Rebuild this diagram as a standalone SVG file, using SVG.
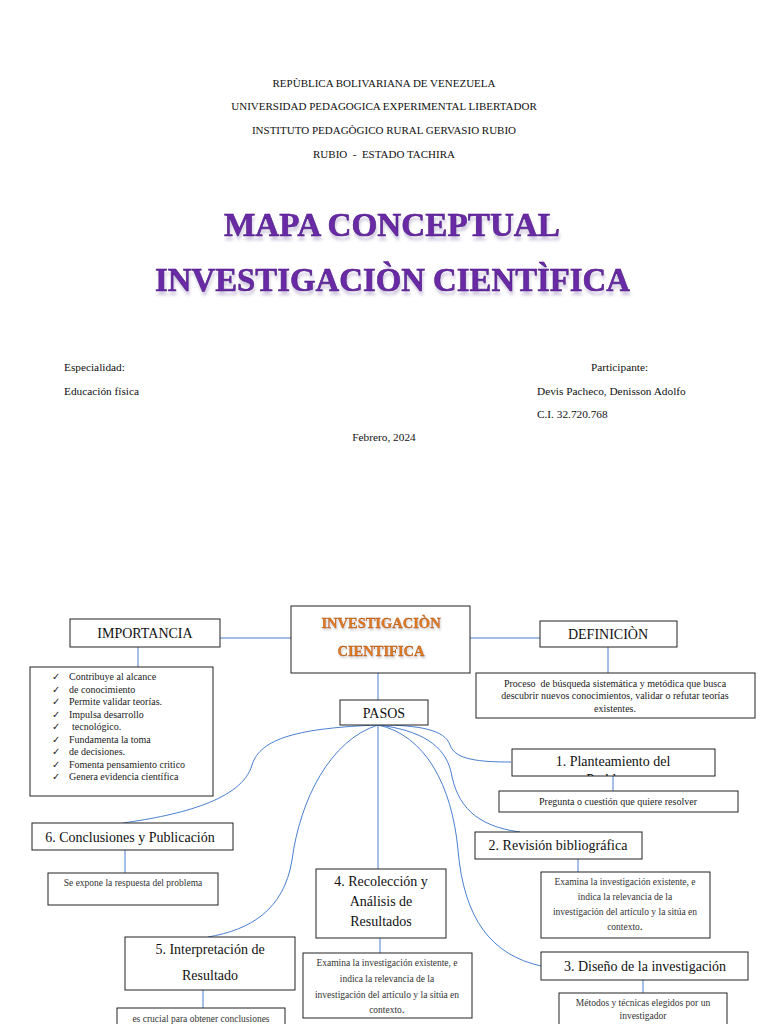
<svg xmlns="http://www.w3.org/2000/svg" width="768" height="1024" viewBox="0 0 768 1024">
<defs>
<style>
.hdr{font-family:"Liberation Serif",serif;font-size:11px;fill:#111}
.inf{font-family:"Liberation Serif",serif;font-size:11.3px;fill:#111}
.ttl{font-family:"Liberation Serif",serif;font-weight:bold;font-size:34px;fill:#6a2aa6;stroke:#4a1780;stroke-width:0.6}
.box{fill:#fff;stroke:#222;stroke-width:1}
.lbl{font-family:"Liberation Serif",serif;font-size:14px;fill:#111;text-anchor:middle}
.sm{font-family:"Liberation Serif",serif;font-size:10px;fill:#222}
.xs{font-family:"Liberation Serif",serif;font-size:9.5px;fill:#333;text-anchor:middle}
.chk{font-family:"DejaVu Sans",sans-serif;font-size:10px;fill:#222}
.org{font-family:"Liberation Serif",serif;font-weight:bold;font-size:14.5px;fill:#e07a1f;stroke:#a8520c;stroke-width:0.3;text-anchor:middle}
.con{fill:none;stroke:#4a7fd0;stroke-width:1}
</style>
<filter id="sh" x="-5%" y="-20%" width="110%" height="160%">
<feDropShadow dx="1" dy="4" stdDeviation="1.5" flood-color="#9a86b8" flood-opacity="0.45"/>
</filter>
<filter id="sho" x="-5%" y="-20%" width="110%" height="160%">
<feDropShadow dx="1" dy="2" stdDeviation="1" flood-color="#999" flood-opacity="0.5"/>
</filter>
<clipPath id="clipP"><rect x="512" y="749" width="203" height="27"/></clipPath>
</defs>

<g id="header">
<text class="hdr" x="384" y="87" text-anchor="middle">REPÙBLICA BOLIVARIANA DE VENEZUELA</text>
<text class="hdr" x="384" y="110" text-anchor="middle">UNIVERSIDAD PEDAGOGICA EXPERIMENTAL LIBERTADOR</text>
<text class="hdr" x="384" y="134" text-anchor="middle">INSTITUTO PEDAGÒGICO RURAL GERVASIO RUBIO</text>
<text class="hdr" x="384" y="158" text-anchor="middle" xml:space="preserve">RUBIO  -  ESTADO TACHIRA</text>
</g>

<g id="title" filter="url(#sh)">
<text class="ttl" x="224" y="236" textLength="336" lengthAdjust="spacingAndGlyphs">MAPA CONCEPTUAL</text>
<text class="ttl" x="155" y="291" textLength="475" lengthAdjust="spacingAndGlyphs">INVESTIGACIÒN CIENTÌFICA</text>
</g>

<g id="info">
<text class="inf" x="64" y="371">Especialidad:</text>
<text class="inf" x="64" y="395">Educación física</text>
<text class="inf" x="591" y="371">Participante:</text>
<text class="inf" x="537" y="395">Devis Pacheco, Denisson Adolfo</text>
<text class="inf" x="537" y="418">C.I. 32.720.768</text>
<text class="inf" x="384" y="441" text-anchor="middle">Febrero, 2024</text>
</g>

<g id="connectors">
<line class="con" x1="220" y1="638" x2="291" y2="638"/>
<line class="con" x1="470" y1="638" x2="540" y2="638"/>
<line class="con" x1="138" y1="647" x2="138" y2="667"/>
<line class="con" x1="608" y1="647" x2="608" y2="673"/>
<line class="con" x1="378" y1="673" x2="378" y2="700"/>
<line class="con" x1="378" y1="725" x2="378" y2="869"/>
<path class="con" d="M378,725 C300,728 260,738 252,765 C242,800 180,815 123,823"/>
<path class="con" d="M378,725 C330,740 300,800 292,860 C284,910 250,930 208,937"/>
<path class="con" d="M378,725 C420,725 445,730 450,745 C455,760 480,762 511,762"/>
<path class="con" d="M378,725 C420,730 445,745 451,772 C457,805 475,826 520,832"/>
<path class="con" d="M378,725 C425,735 452,785 458,850 C464,920 492,955 541,966"/>
<line class="con" x1="613" y1="776" x2="613" y2="791"/>
<line class="con" x1="578" y1="859" x2="578" y2="872"/>
<line class="con" x1="643" y1="980" x2="643" y2="993"/>
<line class="con" x1="380" y1="938" x2="380" y2="953"/>
<line class="con" x1="203" y1="990" x2="203" y2="1008"/>
<line class="con" x1="125" y1="850" x2="125" y2="873"/>
</g>

<g id="n-investigacion">
<rect class="box" x="291" y="606" width="179" height="67"/>
<g filter="url(#sho)">
<text class="org" x="381" y="628">INVESTIGACIÒN</text>
<text class="org" x="381" y="656">CIENTIFICA</text>
</g>
</g>

<g id="n-importancia">
<rect class="box" x="70" y="619" width="150" height="28"/>
<text class="lbl" x="145" y="638">IMPORTANCIA</text>
</g>

<g id="n-importancia-list">
<rect class="box" x="30" y="667" width="183" height="129"/>
<text class="chk" x="52" y="680">✓</text><text class="sm" x="69" y="680">Contribuye al alcance</text>
<text class="chk" x="52" y="692.5">✓</text><text class="sm" x="69" y="692.5">de conocimiento</text>
<text class="chk" x="52" y="705">✓</text><text class="sm" x="69" y="705">Permite validar teorías.</text>
<text class="chk" x="52" y="717.5">✓</text><text class="sm" x="69" y="717.5">Impulsa desarrollo</text>
<text class="chk" x="52" y="730">✓</text><text class="sm" x="72" y="730">tecnológico.</text>
<text class="chk" x="52" y="742.5">✓</text><text class="sm" x="69" y="742.5">Fundamenta la toma</text>
<text class="chk" x="52" y="755">✓</text><text class="sm" x="69" y="755">de decisiones.</text>
<text class="chk" x="52" y="767.5">✓</text><text class="sm" x="69" y="767.5">Fomenta pensamiento critico</text>
<text class="chk" x="52" y="780">✓</text><text class="sm" x="69" y="780">Genera evidencia científica</text>
</g>

<g id="n-definicion">
<rect class="box" x="540" y="621" width="137" height="26"/>
<text class="lbl" x="608" y="639">DEFINICIÒN</text>
</g>

<g id="n-definicion-text">
<rect class="box" x="476" y="673" width="279" height="45"/>
<text class="sm" x="615" y="687" text-anchor="middle" xml:space="preserve">Proceso  de búsqueda sistemática y metódica que busca</text>
<text class="sm" x="615" y="699" text-anchor="middle">descubrir nuevos conocimientos, validar o refutar teorías</text>
<text class="sm" x="615" y="712" text-anchor="middle">existentes.</text>
</g>

<g id="n-pasos">
<rect class="box" x="340" y="700" width="88" height="25"/>
<text class="lbl" x="384" y="718">PASOS</text>
</g>

<g id="n-paso1">
<rect class="box" x="512" y="749" width="203" height="27"/>
<text class="lbl" x="613" y="766">1. Planteamiento del</text>
<text class="lbl" x="613" y="784" clip-path="url(#clipP)">Problema</text>
</g>

<g id="n-paso1-text">
<rect class="box" x="499" y="791" width="239" height="21"/>
<text class="sm" x="618" y="805" text-anchor="middle">Pregunta o cuestión que quiere resolver</text>
</g>

<g id="n-paso2">
<rect class="box" x="475" y="832" width="167" height="27"/>
<text class="lbl" x="558" y="850">2. Revisión bibliográfica</text>
</g>

<g id="n-paso2-text">
<rect class="box" x="541" y="872" width="169" height="66"/>
<text class="xs" x="625" y="885">Examina la investigación existente, e</text>
<text class="xs" x="625" y="900">indica la relevancia de la</text>
<text class="xs" x="625" y="915">investigación del artículo y la sitúa en</text>
<text class="xs" x="625" y="930">contexto<tspan font-size="12">.</tspan></text>
</g>

<g id="n-paso3">
<rect class="box" x="541" y="952" width="207" height="28"/>
<text class="lbl" x="645" y="971">3. Diseño de la investigación</text>
</g>

<g id="n-paso3-text">
<rect class="box" x="559" y="993" width="168" height="40"/>
<text class="xs" x="643" y="1006" font-size="9">Métodos y técnicas elegidos por un</text>
<text class="xs" x="643" y="1019" font-size="9">investigador</text>
</g>

<g id="n-paso4">
<rect class="box" x="316" y="869" width="130" height="69"/>
<text class="lbl" x="381" y="886">4. Recolección y</text>
<text class="lbl" x="381" y="906">Análisis de</text>
<text class="lbl" x="381" y="926">Resultados</text>
</g>

<g id="n-paso4-text">
<rect class="box" x="303" y="953" width="169" height="65"/>
<text class="xs" x="387" y="966">Examina la investigación existente, e</text>
<text class="xs" x="387" y="982">indica la relevancia de la</text>
<text class="xs" x="387" y="998">investigación del artículo y la sitúa en</text>
<text class="xs" x="387" y="1013">contexto<tspan font-size="12">.</tspan></text>
</g>

<g id="n-paso5">
<rect class="box" x="125" y="937" width="170" height="53"/>
<text class="lbl" x="210" y="954">5. Interpretación de</text>
<text class="lbl" x="210" y="980">Resultado</text>
</g>

<g id="n-paso5-text">
<rect class="box" x="117" y="1008" width="168" height="30"/>
<text class="xs" x="201" y="1022">es crucial para obtener conclusiones</text>
</g>

<g id="n-paso6">
<rect class="box" x="32" y="823" width="201" height="27"/>
<text class="lbl" x="130" y="842" font-size="15">6. Conclusiones y Publicación</text>
</g>

<g id="n-paso6-text">
<rect class="box" x="48" y="873" width="170" height="32"/>
<text class="xs" x="133" y="886">Se expone la respuesta del problema</text>
</g>
</svg>
